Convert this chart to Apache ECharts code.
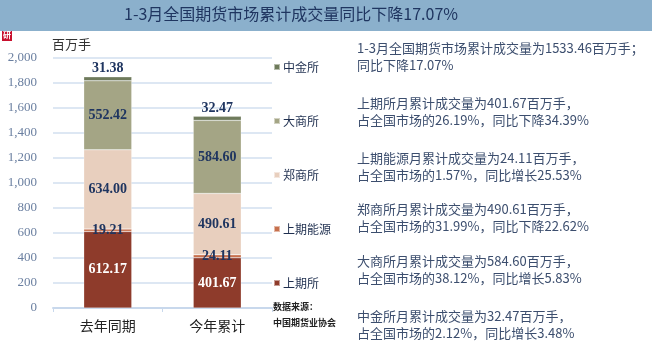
<!DOCTYPE html>
<html><head><meta charset="utf-8">
<script src="https://cdn.jsdelivr.net/npm/echarts@6/dist/echarts.min.js"></script>
<style>html,body{margin:0;padding:0;background:#fff}#c{width:652px;height:354px}</style>
</head><body><div id="c"></div>
<script>
const categories = ['去年同期', '今年累计'];
const seriesNames = ['上期所', '上期能源', '郑商所', '大商所', '中金所'];
const shfe = [612.17, 401.67];
const ine = [19.21, 24.11];
const czce = [634.00, 490.61];
const dce = [552.42, 584.60];
const cffex = [31.38, 32.47];
const yTicks = [0, 200, 400, 600, 800, 1000, 1200, 1400, 1600, 1800, 2000];
const titleText = '1-3月全国期货市场累计成交量同比下降17.07%';
const notes = [
  ['1-3月全国期货市场累计成交量为1533.46百万手；', '同比下降17.07%'],
  ['上期所月累计成交量为401.67百万手，', '占全国市场的26.19%，同比下降34.39%'],
  ['上期能源月累计成交量为24.11百万手，', '占全国市场的1.57%，同比增长25.53%'],
  ['郑商所月累计成交量为490.61百万手，', '占全国市场的31.99%，同比下降22.62%'],
  ['大商所月累计成交量为584.60百万手，', '占全国市场的38.12%，同比增长5.83%'],
  ['中金所月累计成交量为32.47百万手，', '占全国市场的2.12%，同比增长3.48%']
];
const noteY = [49, 104, 159, 210, 262, 317];

const colors = ['#8e3b2b', '#c7704d', '#e8cfbe', '#a4a585', '#6e7a5b'];
const dataArr = [shfe, ine, czce, dce, cffex];
const labelColors = ['#ffffff', '#1f3560', '#1f3560', '#1f3560', '#1f3560'];

const chart = echarts.init(document.getElementById('c'));
const series = seriesNames.map((n, i) => ({
  name: n, type: 'bar', stack: 'a', barWidth: 48,
  data: dataArr[i],
  itemStyle: { color: colors[i], borderColor: 'rgba(255,255,255,0.5)', borderWidth: 0.5 },
  label: {
    show: true,
    position: i === 4 ? 'top' : 'inside',
    distance: 1,
    color: labelColors[i],
    fontFamily: 'Liberation Serif', fontWeight: 'bold', fontSize: 14,
    formatter: p => p.value.toFixed(2)
  }
}));

const graphics = [
  { type: 'rect', shape: { x: 0, y: 0, width: 652, height: 31 }, style: { fill: '#8bb0cc' } },
  { type: 'text', left: 124, top: 6, style: { text: titleText, fill: '#1f3560', font: '16px "Noto Sans CJK SC"' } },
  { type: 'rect', shape: { x: 2, y: 31, width: 10, height: 10 }, style: { fill: '#c8102e' } },
  { type: 'text', left: 3, top: 31, style: { text: '研', fill: '#fff', font: 'bold 8px "Noto Sans CJK SC"' } },
  { type: 'text', left: 52, top: 38, style: { text: '百万手', fill: '#333', font: '13px "Noto Sans CJK SC"' } },
  { type: 'text', left: 273, top: 302, style: { text: '数据来源：', fill: '#222', font: 'bold 9px "Noto Sans CJK SC"' } },
  { type: 'text', left: 273, top: 318, style: { text: '中国期货业协会', fill: '#222', font: 'bold 9px "Noto Sans CJK SC"' } }
];
notes.forEach((pair, i) => {
  pair.forEach((t, j) => {
    graphics.push({ type: 'text', left: 357, top: noteY[i] - 7 + j * 17,
      style: { text: t, fill: '#3c4e6e', font: '13px "Noto Sans CJK SC"' } });
  });
});

chart.setOption({
  animation: false,
  grid: { left: 53, right: 380, top: 58, bottom: 46 },
  legend: {
    data: seriesNames.slice().reverse(),
    orient: 'vertical', left: 268, top: 56,
    itemWidth: 6, itemHeight: 6, itemGap: 42,
    icon: 'rect',
    textStyle: { color: '#1f2f4f', fontSize: 12, fontFamily: 'Noto Sans CJK SC', padding: [0, 0, 0, -2] }
  },
  xAxis: {
    type: 'category', data: categories,
    axisLine: { lineStyle: { color: '#c8d8ec', width: 2 } },
    axisTick: { show: true, lineStyle: { color: '#c8d8ec' }, length: 4 },
    axisLabel: { color: '#222', fontSize: 14, fontFamily: 'Noto Sans CJK SC', margin: 11 }
  },
  yAxis: {
    type: 'value', min: yTicks[0], max: yTicks[yTicks.length - 1], interval: 200,
    axisLine: { show: false }, axisTick: { show: false },
    splitLine: { lineStyle: { color: '#dde7f3', width: 2 } },
    axisLabel: { color: '#6a7fa0', fontSize: 13, fontFamily: 'Liberation Serif', margin: 16,
      formatter: v => v.toLocaleString('en-US') }
  },
  series: series,
  graphic: graphics
});
</script></body></html>
